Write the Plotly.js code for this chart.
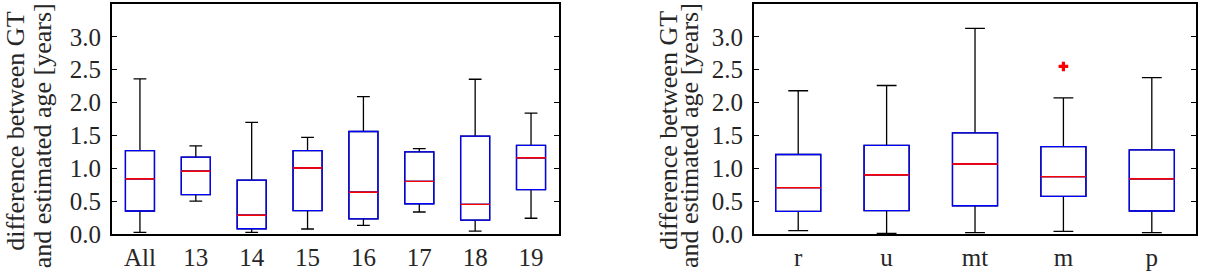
<!DOCTYPE html>
<html>
<head>
<meta charset="utf-8">
<script src="https://cdn.plot.ly/plotly-3.0.1.min.js"></script>
<style>html,body{margin:0;padding:0;background:#fff;}#chart{width:1207px;height:273px;}</style>
</head>
<body>
<div id="chart"></div>
<script>
// Left panel: age groups
const leftCats   = ['All', '13', '14', '15', '16', '17', '18', '19'];
const leftLower  = [0.025, 0.50, 0.025, 0.076, 0.13, 0.335, 0.045, 0.24];
const leftQ1     = [0.35, 0.60, 0.08, 0.355, 0.23, 0.46, 0.21, 0.675];
const leftMedian = [0.84, 0.955, 0.285, 1.005, 0.635, 0.80, 0.45, 1.16];
const leftQ3     = [1.27, 1.17, 0.82, 1.27, 1.56, 1.25, 1.49, 1.35];
const leftUpper  = [2.36, 1.34, 1.70, 1.47, 2.09, 1.30, 2.355, 1.84];

// Right panel: categories
const rightCats   = ['r', 'u', 'mt', 'm', 'p'];
const rightLower  = [0.05, 0.01, 0.02, 0.04, 0.02];
const rightQ1     = [0.345, 0.355, 0.43, 0.574, 0.35];
const rightMedian = [0.705, 0.90, 1.066, 0.873, 0.84];
const rightQ3     = [1.21, 1.35, 1.54, 1.33, 1.28];
const rightUpper  = [2.18, 2.26, 3.13, 2.07, 2.38];
const outlierCats = ['m'];
const outlierVals = [2.55];

const yTickVals = [0, 0.5, 1.0, 1.5, 2.0, 2.5, 3.0];
const yTitleLine1 = 'difference between GT';
const yTitleLine2 = 'and estimated age [years]';

const FONT = 'Liberation Serif';
const TXT = '#262626';

function boxSet(cats, lo, q1, med, q3, hi, xa, ya, w) {
  const common = {type: 'box', x: cats, xaxis: xa, yaxis: ya, width: w, boxpoints: false,
    fillcolor: 'rgba(0,0,0,0)', hoverinfo: 'skip', showlegend: false, whiskerwidth: 0.44};
  return [
    Object.assign({}, common, {q1: q1, median: med, q3: q3, lowerfence: lo, upperfence: hi,
      line: {color: '#000000', width: 1.3}}),
    Object.assign({}, common, {q1: q1, median: med, q3: q3, lowerfence: q1, upperfence: q3,
      line: {color: '#0000ff', width: 1.3}}),
    Object.assign({}, common, {q1: med, median: med, q3: med, lowerfence: med, upperfence: med,
      line: {color: '#ff0000', width: 1}, whiskerwidth: 0})
  ];
}

const data = [].concat(
  boxSet(leftCats, leftLower, leftQ1, leftMedian, leftQ3, leftUpper, 'x', 'y', 0.52),
  boxSet(rightCats, rightLower, rightQ1, rightMedian, rightQ3, rightUpper, 'x2', 'y2', 0.51),
  [{type: 'scatter', mode: 'markers', x: outlierCats, y: outlierVals, xaxis: 'x2', yaxis: 'y2',
    marker: {symbol: 'cross', size: 8, color: '#ff0000'}, hoverinfo: 'skip', showlegend: false}]
);

function xAxis(dom, n, anchor) {
  return {domain: dom, type: 'category', range: [-0.5, n - 0.5], anchor: anchor,
    showline: true, linewidth: 2, linecolor: '#000', mirror: true, ticks: '',
    showgrid: false, zeroline: false, tickfont: {family: FONT, size: 25, color: TXT}, ticklabelstandoff: 0};
}
function yAxis(anchor) {
  return {domain: [0, 1], range: [0, 3.5], anchor: anchor, tickvals: yTickVals, tickformat: '.1f',
    showline: true, linewidth: 2, linecolor: '#000', mirror: 'ticks', ticks: 'inside', ticklen: 5,
    tickcolor: '#000', tickwidth: 1, showgrid: false, zeroline: false,
    tickfont: {family: FONT, size: 25, color: TXT}, ticklabelstandoff: 4};
}

function titleAnn(text, x, y) {
  return {text: text, xref: 'paper', yref: 'paper', x: x, y: y, xanchor: 'center', yanchor: 'middle',
    textangle: -90, showarrow: false, font: {family: FONT, size: 26, color: TXT}};
}

const layout = {
  width: 1207, height: 273,
  margin: {l: 0, r: 0, t: 4, b: 39},
  paper_bgcolor: '#fff', plot_bgcolor: '#fff',
  boxmode: 'overlay',
  font: {family: FONT},
  xaxis: xAxis([0.0928, 0.4631], leftCats.length, 'y'),
  yaxis: yAxis('x'),
  xaxis2: xAxis([0.6247, 0.9909], rightCats.length, 'y2'),
  yaxis2: yAxis('x2'),
  annotations: [
    titleAnn(yTitleLine1, 0.0130, 0.448),
    titleAnn(yTitleLine2, 0.0350, 0.426),
    titleAnn(yTitleLine1, 0.5544, 0.448),
    titleAnn(yTitleLine2, 0.5709, 0.426)
  ]
};

Plotly.newPlot('chart', data, layout, {staticPlot: true, displayModeBar: false});
</script>
</body>
</html>
